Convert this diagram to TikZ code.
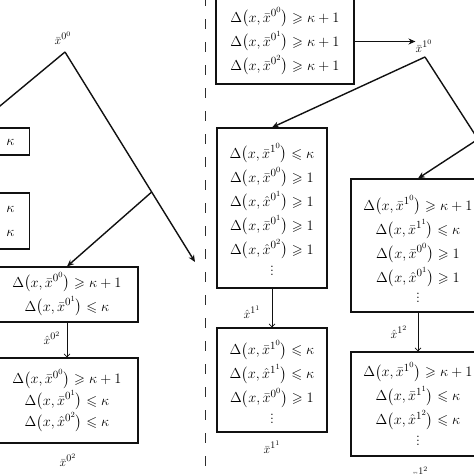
\documentclass[tikz,border=0pt]{standalone}
\usepackage{amsmath,amssymb}
\usetikzlibrary{arrows.meta, calc}
\definecolor{inkblack}{HTML}{111111}
\definecolor{dashgray}{HTML}{2E2E2E}

% larger script levels, closer to the original
\DeclareMathSizes{14}{14}{10.5}{8}
\DeclareMathSizes{13}{13}{10}{7.5}

\newcommand{\Dx}[1]{\Delta\bigl(x,#1\bigr)}
\newcommand{\xbar}[2]{\bar{x}^{#1^{#2}}}
\newcommand{\xhat}[2]{\hat{x}^{#1^{#2}}}
\newcommand{\lift}[1]{\rule{0pt}{#1}}% taller first line pushes the text down

\tikzset{
  cond/.style={draw=inkblack, line width=1.1pt, align=center, inner sep=0pt,
    font=\fontsize{14}{24}\selectfont},
  lbl/.style={font=\fontsize{13}{15}\selectfont, inner sep=0pt},
  branch/.style={inkblack, line width=1.4pt},
  feed/.style={inkblack, line width=0.7pt, -{Straight Barb[length=3pt, width=6pt]}},
}

\begin{document}
\begin{tikzpicture}[x=1pt, y=-1pt, >={Stealth[length=7pt, width=6pt]}]

% Frame — the figure is a crop of a wider one
\useasboundingbox (0,0) rectangle (474,474);
\clip (0,0) rectangle (474,474);

% Dividing line between the two searches
\draw[dashgray, line width=0.9pt, dash pattern=on 10pt off 13pt] (205,-4) -- (205,480);

% ---------------- left search ----------------
\coordinate (apex0) at (65,52);
\coordinate (off0) at (-20,122.6);
\coordinate (tip0) at (195,262);
\coordinate (fork0) at (151.7,192);
\node[lbl] (top0) at (63,38) {$\xbar{0}{0}$};

% Boxes cut by the left edge
\node[cond, anchor=east, minimum height=27pt, text width=100pt, align=right,
  inner xsep=15pt] (cutA) at (30,141.5) {$\leqslant\kappa$};
\node[cond, anchor=east, minimum height=56pt, text width=100pt, align=right,
  inner xsep=15pt] (cutB) at (30,221) {$\leqslant\kappa$\\ $\leqslant\kappa$};

\node[cond, minimum width=142pt, minimum height=55pt] (boxA) at (67,294.5)
  {$\Dx{\xbar{0}{0}}\geqslant\kappa+1$\\ $\Dx{\xbar{0}{1}}\leqslant\kappa$};
\node[cond, minimum width=142pt, minimum height=85pt] (boxB) at (67,400.5)
  {$\Dx{\xbar{0}{0}}\geqslant\kappa+1$\\[-2.5pt] $\Dx{\xbar{0}{1}}\leqslant\kappa$\\[-2.5pt]
   $\Dx{\xhat{0}{2}}\leqslant\kappa$};
\node[lbl] (stepA) at (52,338) {$\xhat{0}{2}$};
\node[lbl] (endA) at (68,460) {$\xbar{0}{2}$};

\draw[branch] (off0) -- (apex0);
\draw[branch, ->] (apex0) -- (tip0);
\draw[branch, ->] (fork0) -- (boxA.north);
\draw[feed] (boxA.south) -- (boxB.north);

% ---------------- right search ----------------
\node[cond, minimum width=138pt, minimum height=85pt] (boxC) at (285,41.5)
  {$\Dx{\xbar{0}{0}}\geqslant\kappa+1$\\ $\Dx{\xbar{0}{1}}\geqslant\kappa+1$\\
   $\Dx{\xbar{0}{2}}\geqslant\kappa+1$};
\node[lbl] (top1) at (424,46) {$\xbar{1}{0}$};
\coordinate (apex1) at (425,57);
\coordinate (fork1) at (478,139.2);
\coordinate (stem1) at (500,173);

\node[cond, minimum width=110pt, minimum height=160pt] (boxD) at (272,208)
  {\lift{17pt}$\Dx{\xbar{1}{0}}\leqslant\kappa$\\ $\Dx{\xbar{0}{0}}\geqslant 1$\\
   $\Dx{\xhat{0}{1}}\geqslant 1$\\ $\Dx{\xbar{0}{1}}\geqslant 1$\\
   $\Dx{\xhat{0}{2}}\geqslant 1$\\[-3pt] $\vdots$};
\node[cond, minimum width=110pt, minimum height=104pt] (boxE) at (272,380)
  {\lift{18pt}$\Dx{\xbar{1}{0}}\leqslant\kappa$\\ $\Dx{\xhat{1}{1}}\leqslant\kappa$\\
   $\Dx{\xbar{0}{0}}\geqslant 1$\\[-3pt] $\vdots$};
\node[lbl] (stepD) at (252,312) {$\xhat{1}{1}$};
\node[lbl] (endE) at (272,447) {$\xbar{1}{1}$};

\node[cond, minimum width=134pt, minimum height=133pt] (boxF) at (418,245.5)
  {\lift{21pt}$\Dx{\xbar{1}{0}}\geqslant\kappa+1$\\ $\Dx{\xbar{1}{1}}\leqslant\kappa$\\
   $\Dx{\xbar{0}{0}}\geqslant 1$\\ $\Dx{\xhat{0}{1}}\geqslant 1$\\[-4pt] $\vdots$};
\node[cond, minimum width=134pt, minimum height=104pt] (boxG) at (418,404)
  {$\Dx{\xbar{1}{0}}\geqslant\kappa+1$\\ $\Dx{\xbar{1}{1}}\leqslant\kappa$\\
   $\Dx{\xhat{1}{2}}\leqslant\kappa$\\[-3pt] $\vdots$};
\node[lbl] (stepF) at (399,332) {$\xhat{1}{2}$};
\node[lbl] (endG) at (420,473) {$\xbar{1}{2}$};

\draw[branch, ->] (boxC.east) -- (boxC.east -| top1.west);
\draw[branch, ->] (apex1) -- (boxD.north);
\draw[branch] (apex1) -- (fork1) -- (stem1);
\draw[branch, ->] (fork1) -- (boxF.north);
\draw[feed] (boxD.south) -- (boxE.north);
\draw[feed] (boxF.south) -- (boxG.north);

\end{tikzpicture}
\end{document}
